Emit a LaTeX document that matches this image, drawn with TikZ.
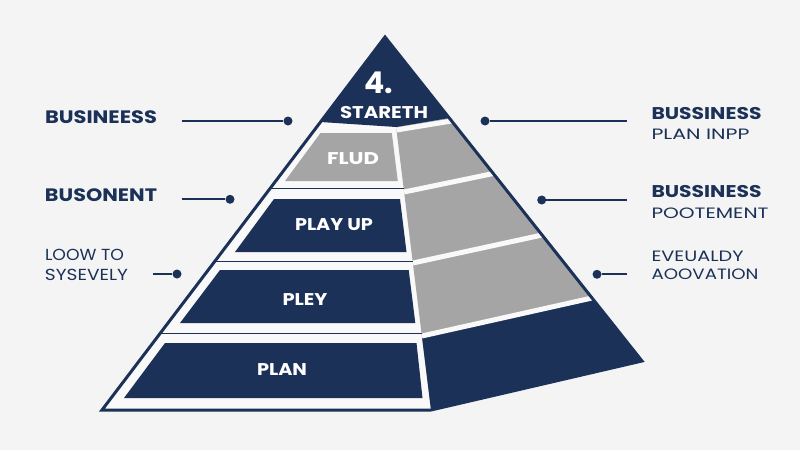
\documentclass[tikz,border=0pt]{standalone}
\usepackage{fontspec}
\setmainfont{Poppins}
\usepackage{graphicx}
\definecolor{navy}{HTML}{1B3158}
\definecolor{grayc}{HTML}{A5A5A5}
\definecolor{bgc}{HTML}{F4F4F4}
\definecolor{band}{HTML}{F9F9F9}
\newcommand{\wfit}[2]{\resizebox{#1}{\height}{#2}}
\tikzset{
  lbl/.style={inner sep=0pt, outer sep=0pt, text=navy, anchor=west},
  inlbl/.style={inner sep=0pt, outer sep=0pt, text=white, font=\bfseries\fontsize{17}{17}\selectfont},
  dot/.style={circle, fill=navy, inner sep=0pt, minimum size=9pt},
  conn/.style={draw=navy, line width=2pt},
  stripe/.style={draw=band, line width=5pt},
  sepline/.style={draw=navy, line width=0.9pt},
  navyblock/.style={fill=navy},
  grayblock/.style={fill=grayc}
}
\begin{document}
\begin{tikzpicture}[x=1pt,y=-1pt]
\useasboundingbox (0,0) rectangle (800,450);
\fill[bgc] (0,0) rectangle (800,450);

% pyramid corners
\coordinate (A) at (385,37);
\coordinate (L) at (102,410);
\coordinate (F) at (431,410);
\coordinate (R) at (642,361);

% faces
\fill[band] (A)--(L)--(F)--cycle;
\fill[grayc] (A)--(F)--(R)--cycle;

% cap
\fill[navy] (A)--(320.5,122)--(396.1,127)--(449.2,118)--cycle;

% side bottom navy
\fill[navy] (422.0,337)--(592.8,299)--(R)--(F)--cycle;

% side stripes
\draw[stripe] (396.5,130)--(451.6,121);
\draw[stripe] (404.1,192)--(493.3,173.5);
\draw[stripe] (412.9,263)--(542.1,235);
\draw[stripe] (421.9,336)--(592.0,298);

% front blocks
\fill[grayc] (320.5,133)--(391.8,133)--(397.8,181)--(285,181)--cycle;
\fill[navy] (274,199)--(400,199)--(406.5,252)--(235,252)--cycle;
\fill[navy] (220,270)--(408.7,270)--(415.3,323)--(180,323)--cycle;
\fill[navy] (165,343)--(416.5,343)--(422.5,398)--(124,398)--cycle;

% separators
\draw[sepline] (270.4,188)--(403.6,188);
\draw[sepline] (215,261)--(412.6,261);
\draw[sepline] (160.4,333)--(421.5,333);

% outline
\draw[navy, line width=3pt, line join=miter] (A)--(L)--(F)--(R)--cycle;

% inner labels
\node[inlbl, font=\bfseries\fontsize{30}{30}\selectfont] (n4) at (379,83) {4.};
\node[inlbl] (t1) at (384,112.5) {\wfit{88pt}{STARETH}};
\node[inlbl] (t2) at (353,159) {\wfit{52pt}{FLUD}};
\node[inlbl] (t3) at (334,225) {\wfit{78pt}{PLAY UP}};
\node[inlbl] (t4) at (305,300) {\wfit{45pt}{PLEY}};
\node[inlbl] (t5) at (282,370) {\wfit{50pt}{PLAN}};

% left labels
\node[lbl, font=\bfseries\fontsize{18}{18}\selectfont] (l1) at (45,117.3) {\wfit{112pt}{BUSINEESS}};
\node[lbl, font=\bfseries\fontsize{18}{18}\selectfont] (l2) at (45,195) {\wfit{112pt}{BUSONENT}};
\node[lbl, font=\fontsize{16}{16}\selectfont] (l3a) at (45,255) {\wfit{79pt}{LOOW TO}};
\node[lbl, font=\fontsize{16}{16}\selectfont] (l3b) at (45,274.5) {\wfit{83pt}{SYSEVELY}};

% right labels
\node[lbl, font=\bfseries\fontsize{17}{17}\selectfont] (r1a) at (651.5,114) {\wfit{110pt}{BUSSINESS}};
\node[lbl, font=\fontsize{15}{15}\selectfont] (r1b) at (651.5,134.5) {\wfit{98pt}{PLAN INPP}};
\node[lbl, font=\bfseries\fontsize{17}{17}\selectfont] (r2a) at (651.5,192) {\wfit{110pt}{BUSSINESS}};
\node[lbl, font=\fontsize{15}{15}\selectfont] (r2b) at (651.5,213.5) {\wfit{117pt}{POOTEMENT}};
\node[lbl, font=\fontsize{15}{15}\selectfont] (r3a) at (651.5,256.5) {\wfit{92pt}{EVEUALDY}};
\node[lbl, font=\fontsize{15}{15}\selectfont] (r3b) at (651.5,274) {\wfit{107pt}{AOOVATION}};

% connectors
\node[dot] (dl1) at (288,121) {};
\node[dot] (dl2) at (230,199.3) {};
\node[dot] (dl3) at (177,274) {};
\node[dot] (dr1) at (485,121) {};
\node[dot] (dr2) at (541.7,200) {};
\node[dot] (dr3) at (597,274.3) {};
\coordinate (el1) at (181.5,121);
\coordinate (el2) at (181.5,199.3);
\coordinate (el3) at (153,274);
\coordinate (er1) at (627,121);
\coordinate (er2) at (627,200);
\coordinate (er3) at (627,274.3);
\draw[conn] (el1)--(dl1);
\draw[conn] (el2)--(dl2);
\draw[conn] (el3)--(dl3);
\draw[conn] (dr1)--(er1);
\draw[conn] (dr2)--(er2);
\draw[conn] (dr3)--(er3);
\end{tikzpicture}
\end{document}
